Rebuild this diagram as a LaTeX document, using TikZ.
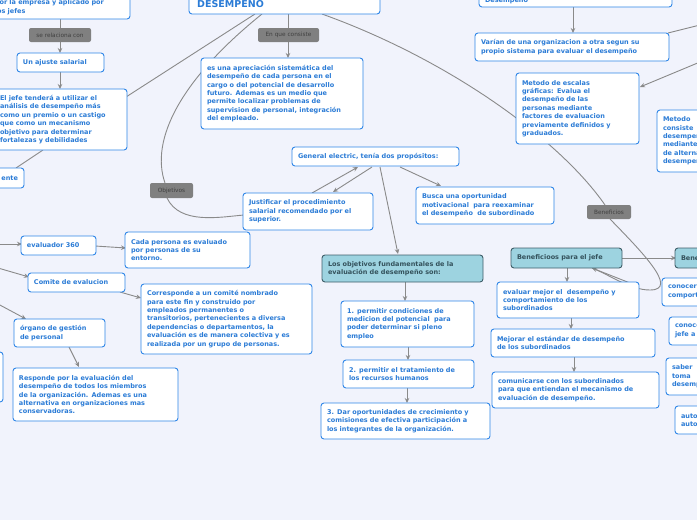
\documentclass[tikz,border=0pt]{standalone}
\usepackage{fontspec}
\setmainfont{DejaVu Sans}
\usetikzlibrary{arrows.meta}
\definecolor{bg}{HTML}{F1F3FC}
\definecolor{bl}{HTML}{2F86E8}
\definecolor{bt}{HTML}{2A7BD6}
\definecolor{gr}{HTML}{808080}
\definecolor{ln}{HTML}{8A8A8A}
\definecolor{tl}{HTML}{9DD3E0}
\definecolor{tb}{HTML}{3F5E69}
\definecolor{tt}{HTML}{34525C}
\tikzset{
 box/.style={draw=bl,line width=0.9pt,fill=white,rounded corners=3pt,align=left,text=bt,font=\fontsize{6.5}{8.4}\selectfont\bfseries,inner xsep=6pt,inner ysep=2pt},
 tbox/.style={box,draw=tb,fill=tl,text=tt},
 lab/.style={fill=gr,rounded corners=2pt,text=black!75,font=\fontsize{5.8}{7}\selectfont,inner sep=0pt},
 con/.style={draw=ln,line width=0.9pt},
 arr/.style={con,-{Stealth[length=5pt,width=4.5pt]}}
}
\newcommand\bx[7][box]{%
 \pgfmathsetmacro\bw{#5-#3}\pgfmathsetmacro\bh{#6-#4}\pgfmathsetmacro\tw{#5-#3-10}%
 \pgfmathsetmacro\cx{(#3+#5)/2}\pgfmathsetmacro\cy{(#4+#6)/2}%
 \node[#1,minimum width=\bw pt,minimum height=\bh pt,text width=\tw pt] (#2) at (\cx,\cy) {#7};}
\newcommand\lb[6]{%
 \pgfmathsetmacro\bw{#4-#2}\pgfmathsetmacro\bh{#5-#3}%
 \pgfmathsetmacro\cx{(#2+#4)/2}\pgfmathsetmacro\cy{(#3+#5)/2}%
 \node[lab,minimum width=\bw pt,minimum height=\bh pt] (#1) at (\cx,\cy) {#6};}
\begin{document}
\begin{tikzpicture}[x=1pt,y=-1pt]
\useasboundingbox (0,0) rectangle (697,520);
\clip (0,0) rectangle (697,520);
\fill[bg] (-5,-5) rectangle (702,525);
\coordinate (L1) at (-2,244);
\coordinate (L2) at (-2,268);
\coordinate (L3) at (-2,304);
\coordinate (R1) at (700,25);
\coordinate (R2) at (700,62);
% connectors
\draw[con] (255,14) -- (126,97);
\draw[con] (262,14) .. controls (180,80) and (150,140) .. (165,183);
\draw[con] (167,198) .. controls (180,225) and (220,217) .. (244,215);
\draw[con] (322,14) .. controls (450,60) and (560,140) .. (605,205);
\draw[con] (610,219) .. controls (640,250) and (680,290) .. (650,290) .. controls (630,290) and (610,275) .. (592,268);
\draw[arr] (630,283) -- (592,268);
\draw[con] (288,14) -- (288,28);
\draw[arr] (288,42) -- (288,58);
\draw[con] (60,19) -- (60,28);
\draw[arr] (60,42) -- (60,53);
\draw[arr] (60,72) -- (60,89);
\draw[con] (43,150) -- (16,168);
\draw[arr] (312,193) -- (358,167);
\draw[arr] (372,167) -- (333,192);
\draw[arr] (400,167) -- (441,186);
\draw[arr] (380,167) -- (398,254);
\draw[arr] (573,7) -- (573,33);
\draw[con] (R1) -- (668,33);
\draw[arr] (R2) -- (640,87);
\draw[arr] (621,258) -- (676,258);
\draw[arr] (567,268) -- (567,282);
\draw[arr] (571,318) -- (571,329);
\draw[arr] (574,357) -- (574,372);
\draw[arr] (405,282) -- (405,301);
\draw[arr] (408,347) -- (408,360);
\draw[arr] (407,388) -- (407,403);
\draw[arr] (L1) -- (22,244);
\draw[arr] (L2) -- (29,277);
\draw[arr] (L3) -- (26,319);
\draw[arr] (95,246) -- (126,248);
\draw[arr] (120,292) -- (141,298);
\draw[arr] (69,347) -- (79,367);
% nodes
\bx{tl0}{-10}{-25}{129}{19}{\mbox{}\\\mbox{}\\\mbox{}\\por la empresa y aplicado por\\los jefes}
\lb{rel}{29}{28}{91}{42}{se relaciona con}
\bx{aj}{18}{53}{103}{72}{Un ajuste salarial}
\bx{jefe}{-5}{89}{126}{150}{El jefe tenderá a utilizar el\\análisis de desempeño más\\como un premio o un castigo\\que como un mecanismo\\objetivo para determinar\\fortalezas y debilidades}
\bx{ente}{-40}{168}{23}{188}{\hfill ente}
\draw[box] (189,-20) rectangle (380,14);
\node[text=bt,font=\fontsize{9.5}{10}\selectfont\bfseries,anchor=base west,inner sep=0pt] (des) at (197,7) {DESEMPEÑO};
\lb{cons}{258}{28}{319}{42}{En que consiste}
\bx{apr}{202}{58}{362}{129}{es una apreciación sistemática del\\desempeño de cada persona en el\\cargo o del potencial de desarrollo\\futuro. Ademas es un medio que\\permite localizar problemas de\\supervision de personal, integración\\del empleado.}
\bx{ge}{293}{147}{458}{166}{\centering General electric, tenía dos propósitos:}
\lb{obj}{150}{183}{193}{198}{Objetivos}
\bx{just}{244}{193}{372}{230}{Justificar el procedimiento\\salarial recomendado por el\\superior.}
\bx{busca}{417}{187}{553}{224}{Busca una oportunidad\\motivacional\ \ para reexaminar\\el desempeño\ \ de subordinado}
\bx{trr}{480}{-25}{671}{7}{\mbox{}\\\mbox{}\\\mbox{}\\Desempeño}
\bx{var}{476}{33}{668}{61}{Varían de una organizacion a otra segun su\\propio sistema para evaluar el desempeño}
\bx{esc}{517}{73}{638}{144}{Metodo de escalas\\gráficas: Evalua el\\desempeño de las\\personas mediante\\factores de evaluacion\\previamente definidos y\\graduados.}
\bx{alt}{658}{110}{740}{172}{Metodo\\consiste\\desempeño\\mediante\\de alternativas\\desempeño}
\lb{ben}{587}{205}{631}{219}{Beneficios}
\bx[tbox]{lof}{323}{255}{482}{282}{Los objetivos fundamentales de la\\evaluación de desempeño son:}
\bx[tbox]{bj}{512}{248}{621}{268}{\centering Beneficioos para el jefe}
\bx[tbox]{bs}{676}{248}{740}{268}{Beneficios}
\bx{ev}{498}{282}{638}{318}{evaluar mejor el\ \ desempeño y\\comportamiento de los\\subordinados}
\bx{mej}{492}{329}{654}{357}{Mejorar el estándar de desempeño\\de los subordinados}
\bx{com}{493}{372}{658}{408}{comunicarse con los subordinados\\para que entiendan el mecanismo de\\evaluación de desempeño.}
\bx{c1}{663}{278}{740}{306}{conocer\\comportamiento}
\bx{c2}{670}{317}{740}{345}{conocer\\jefe a}
\bx{c3}{667}{358}{740}{395}{saber\\toma\\desempeño}
\bx{c4}{676}{406}{740}{434}{auto\\auto}
\bx{o1}{342}{301}{473}{347}{1. permitir condiciones de\\medicion del potencial\ \ para\\poder determinar si pleno\\empleo}
\bx{o2}{344}{360}{473}{388}{2. permitir el tratamiento de\\los recursos humanos}
\bx{o3}{322}{403}{489}{439}{3. Dar oportunidades de crecimiento y\\comisiones de efectiva participación a\\los integrantes de la organización.}
\bx{e360}{22}{236}{95}{255}{\centering evaluador 360}
\bx{cada}{126}{232}{249}{268}{Cada persona es evaluado\\por personas de su\\entorno.}
\bx{comi}{29}{273}{124}{292}{\centering Comite de evalucion}
\bx{corr}{142}{284}{311}{354}{Corresponde a un comité nombrado\\para este fin y construido por\\empleados permanentes o\\transitorios, pertenecientes a diversa\\dependencias o departamentos, la\\evaluación es de manera colectiva y es\\realizada por un grupo de personas.}
\bx{org}{15}{319}{104}{347}{órgano de gestión\\de personal}
\bx{resp}{14}{368}{177}{421}{Responde por la evaluación del\\desempeño de todos los miembros\\de la organización. Ademas es una\\alternativa en organizaciones mas\\conservadoras.}
\bx{lft}{-30}{352}{2}{402}{\mbox{}}
\end{tikzpicture}
\end{document}
